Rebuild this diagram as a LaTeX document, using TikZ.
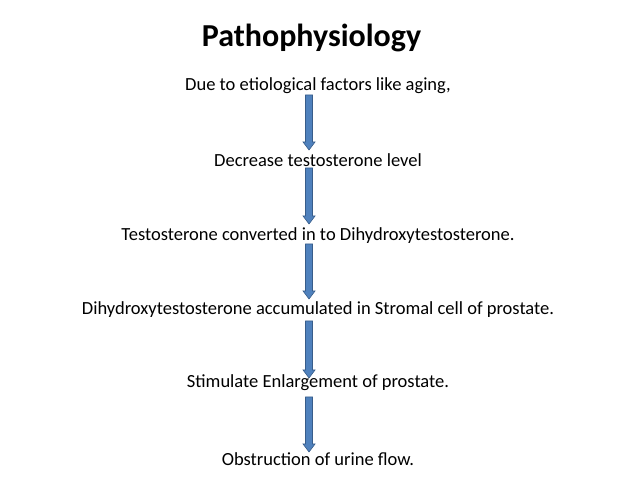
\documentclass[tikz,border=0pt]{standalone}
\usepackage{fontspec}
\setmainfont{Carlito}
\begin{document}
\begin{tikzpicture}[x=1pt,y=-1pt,
  txt/.style={font=\fontsize{18.5}{21}\selectfont, inner sep=0pt},
  barrow/.style={fill={rgb,255:red,79;green,129;blue,189}, draw={rgb,255:red,56;green,93;blue,138}, line width=0.6pt}]
\useasboundingbox (0,0) rectangle (638,478);
\node[font=\bfseries\fontsize{32}{36}\selectfont, inner sep=0pt] (title) at (311.5,38) {Pathophysiology};
\node[txt] (t1) at (318,86) {Due to etiological factors like aging,};
\node[txt] (t2) at (318,160) {Decrease testosterone level};
\node[txt] (t3) at (318,236) {Testosterone converted in to Dihydroxytestosterone.};
\node[txt] (t4) at (318,310) {Dihydroxytestosterone accumulated in Stromal cell of prostate.};
\node[txt] (t5) at (318,383) {Stimulate Enlargement of prostate.};
\node[txt] (t6) at (318,459) {Obstruction of urine flow.};
\foreach \a/\b in {95/150,168/224,244/299,321/378,397/452}{
  \draw[barrow] (305.5,\a) -- (312.5,\a) -- (312.5,\b-8) -- (315,\b-8) -- (309,\b) -- (303,\b-8) -- (305.5,\b-8) -- cycle;
}
\end{tikzpicture}
\end{document}
